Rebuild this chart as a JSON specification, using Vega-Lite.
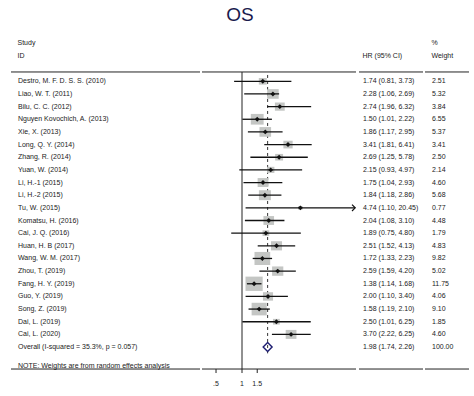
{
  "$schema": "https://vega.github.io/schema/vega-lite/v6.json",
  "background": "white",
  "padding": {"left": 10, "right": 10, "top": 6, "bottom": 4},
  "title": {"text": "OS", "fontSize": 19, "font": "Liberation Sans", "fontWeight": "normal", "color": "#1a1a4d", "anchor": "middle", "offset": 14},
  "config": {
    "view": {"stroke": null},
    "font": "Liberation Sans",
    "text": {"font": "Liberation Sans", "fontSize": 7, "color": "#222222", "baseline": "middle", "align": "left"},
    "title": {"font": "Liberation Sans", "fontSize": 7, "fontWeight": "normal", "color": "#222222", "anchor": "start", "lineHeight": 13, "offset": 12}
  },
  "datasets": {
    "rows": [
      {"study": "Destro, M. F. D. S. S.  (2010)", "kind": "study", "hr": 1.74, "lo": 0.81, "hi": 3.73, "w": 2.51, "ci": "1.74 (0.81, 3.73)", "wt": "2.51"},
      {"study": "Liao, W. T.  (2011)", "kind": "study", "hr": 2.28, "lo": 1.06, "hi": 2.69, "w": 5.32, "ci": "2.28 (1.06, 2.69)", "wt": "5.32"},
      {"study": "Bilu, C. C.  (2012)", "kind": "study", "hr": 2.74, "lo": 1.96, "hi": 6.32, "w": 3.84, "ci": "2.74 (1.96, 6.32)", "wt": "3.84"},
      {"study": "Nguyen Kovochich, A.  (2013)", "kind": "study", "hr": 1.50, "lo": 1.01, "hi": 2.22, "w": 6.55, "ci": "1.50 (1.01, 2.22)", "wt": "6.55"},
      {"study": "Xie, X.  (2013)", "kind": "study", "hr": 1.86, "lo": 1.17, "hi": 2.95, "w": 5.37, "ci": "1.86 (1.17, 2.95)", "wt": "5.37"},
      {"study": "Long, Q. Y.  (2014)", "kind": "study", "hr": 3.41, "lo": 1.81, "hi": 6.41, "w": 3.41, "ci": "3.41 (1.81, 6.41)", "wt": "3.41"},
      {"study": "Zhang, R.  (2014)", "kind": "study", "hr": 2.69, "lo": 1.25, "hi": 5.78, "w": 2.50, "ci": "2.69 (1.25, 5.78)", "wt": "2.50"},
      {"study": "Yuan, W.  (2014)", "kind": "study", "hr": 2.15, "lo": 0.93, "hi": 4.97, "w": 2.14, "ci": "2.15 (0.93, 4.97)", "wt": "2.14"},
      {"study": "Li, H.-1  (2015)", "kind": "study", "hr": 1.75, "lo": 1.04, "hi": 2.93, "w": 4.60, "ci": "1.75 (1.04, 2.93)", "wt": "4.60"},
      {"study": "Li, H.-2  (2015)", "kind": "study", "hr": 1.84, "lo": 1.18, "hi": 2.86, "w": 5.68, "ci": "1.84 (1.18, 2.86)", "wt": "5.68"},
      {"study": "Tu, W.  (2015)", "kind": "study", "hr": 4.74, "lo": 1.10, "hi": 20.45, "w": 0.77, "ci": "4.74 (1.10, 20.45)", "wt": "0.77"},
      {"study": "Komatsu, H.  (2016)", "kind": "study", "hr": 2.04, "lo": 1.08, "hi": 3.10, "w": 4.48, "ci": "2.04 (1.08, 3.10)", "wt": "4.48"},
      {"study": "Cai, J. Q.  (2016)", "kind": "study", "hr": 1.89, "lo": 0.75, "hi": 4.80, "w": 1.79, "ci": "1.89 (0.75, 4.80)", "wt": "1.79"},
      {"study": "Huan, H. B  (2017)", "kind": "study", "hr": 2.51, "lo": 1.52, "hi": 4.13, "w": 4.83, "ci": "2.51 (1.52, 4.13)", "wt": "4.83"},
      {"study": "Wang, W. M.  (2017)", "kind": "study", "hr": 1.72, "lo": 1.33, "hi": 2.23, "w": 9.82, "ci": "1.72 (1.33, 2.23)", "wt": "9.82"},
      {"study": "Zhou, T.  (2019)", "kind": "study", "hr": 2.59, "lo": 1.59, "hi": 4.20, "w": 5.02, "ci": "2.59 (1.59, 4.20)", "wt": "5.02"},
      {"study": "Fang, H. Y.  (2019)", "kind": "study", "hr": 1.38, "lo": 1.14, "hi": 1.68, "w": 11.75, "ci": "1.38 (1.14, 1.68)", "wt": "11.75"},
      {"study": "Guo, Y.  (2019)", "kind": "study", "hr": 2.00, "lo": 1.10, "hi": 3.40, "w": 4.06, "ci": "2.00 (1.10, 3.40)", "wt": "4.06"},
      {"study": "Song, Z.  (2019)", "kind": "study", "hr": 1.58, "lo": 1.19, "hi": 2.10, "w": 9.10, "ci": "1.58 (1.19, 2.10)", "wt": "9.10"},
      {"study": "Dai, L.  (2019)", "kind": "study", "hr": 2.50, "lo": 1.01, "hi": 6.25, "w": 1.85, "ci": "2.50 (1.01, 6.25)", "wt": "1.85"},
      {"study": "Cai, L.  (2020)", "kind": "study", "hr": 3.70, "lo": 2.22, "hi": 6.25, "w": 4.60, "ci": "3.70 (2.22, 6.25)", "wt": "4.60"},
      {"study": "Overall  (I-squared = 35.3%, p = 0.057)", "kind": "overall", "hr": 1.98, "lo": 1.74, "hi": 2.26, "w": 100, "ci": "1.98 (1.74, 2.26)", "wt": "100.00"}
    ],
    "axisticks": [
      {"tick": 0.5, "label": ".5"},
      {"tick": 1, "label": "1"},
      {"tick": 1.5, "label": "1.5"}
    ]
  },
  "spacing": 0,
  "hconcat": [
    {
      "width": 189, "height": 297,
      "title": {"text": ["Study", "ID"], "dx": 7},
      "data": {"name": "rows"},
      "layer": [
        {
          "mark": {"type": "text", "dx": 7},
          "encoding": {
            "x": {"datum": 0, "type": "quantitative", "scale": {"domain": [0, 1]}, "axis": null},
            "y": {"field": "study", "type": "nominal", "axis": null, "scale": {"type": "band", "paddingInner": 0, "paddingOuter": 0.235, "domain": ["Destro, M. F. D. S. S.  (2010)", "Liao, W. T.  (2011)", "Bilu, C. C.  (2012)", "Nguyen Kovochich, A.  (2013)", "Xie, X.  (2013)", "Long, Q. Y.  (2014)", "Zhang, R.  (2014)", "Yuan, W.  (2014)", "Li, H.-1  (2015)", "Li, H.-2  (2015)", "Tu, W.  (2015)", "Komatsu, H.  (2016)", "Cai, J. Q.  (2016)", "Huan, H. B  (2017)", "Wang, W. M.  (2017)", "Zhou, T.  (2019)", "Fang, H. Y.  (2019)", "Guo, Y.  (2019)", "Song, Z.  (2019)", "Dai, L.  (2019)", "Cai, L.  (2020)", "Overall  (I-squared = 35.3%, p = 0.057)", "NOTE"]}},
            "text": {"field": "study"}
          }
        },
        {
          "mark": {"type": "rule", "color": "#222222", "strokeWidth": 1, "yOffset": -3},
          "transform": [{"filter": "datum.kind == 'overall'"}],
          "encoding": {"y": {"datum": "Destro, M. F. D. S. S.  (2010)", "type": "nominal", "bandPosition": 0}}
        },
        {
          "mark": {"type": "rule", "color": "#222222", "strokeWidth": 1, "yOffset": 3},
          "transform": [{"filter": "datum.kind == 'overall'"}],
          "encoding": {"y": {"datum": "NOTE", "type": "nominal", "bandPosition": 1}}
        },
        {
          "mark": {"type": "text", "dx": 7, "dy": 6},
          "transform": [{"filter": "datum.kind == 'overall'"}],
          "encoding": {
            "x": {"datum": 0, "type": "quantitative"},
            "y": {"datum": "NOTE", "type": "nominal"},
            "text": {"value": "NOTE: Weights are from random effects analysis"}
          }
        }
      ]
    },
    {
      "width": 154, "height": 297,
      "title": {"text": [" ", " "]},
      "data": {"name": "rows"},
      "layer": [
        {
          "mark": {"type": "rule", "color": "#333333", "strokeWidth": 1, "strokeDash": [3, 3]},
          "transform": [{"filter": "datum.kind == 'overall'"}],
          "encoding": {
            "x": {"datum": 1.98, "type": "quantitative", "scale": {"type": "log", "domain": [0.344, 20.9], "nice": false}, "axis": null},
            "y": {"datum": "Destro, M. F. D. S. S.  (2010)", "type": "nominal", "bandPosition": 0, "axis": null, "scale": {"type": "band", "paddingInner": 0, "paddingOuter": 0.235, "domain": ["Destro, M. F. D. S. S.  (2010)", "Liao, W. T.  (2011)", "Bilu, C. C.  (2012)", "Nguyen Kovochich, A.  (2013)", "Xie, X.  (2013)", "Long, Q. Y.  (2014)", "Zhang, R.  (2014)", "Yuan, W.  (2014)", "Li, H.-1  (2015)", "Li, H.-2  (2015)", "Tu, W.  (2015)", "Komatsu, H.  (2016)", "Cai, J. Q.  (2016)", "Huan, H. B  (2017)", "Wang, W. M.  (2017)", "Zhou, T.  (2019)", "Fang, H. Y.  (2019)", "Guo, Y.  (2019)", "Song, Z.  (2019)", "Dai, L.  (2019)", "Cai, L.  (2020)", "Overall  (I-squared = 35.3%, p = 0.057)", "NOTE"]}},
            "y2": {"datum": "Overall  (I-squared = 35.3%, p = 0.057)", "bandPosition": 1}
          }
        },
        {
          "mark": {"type": "rule", "color": "#222222", "strokeWidth": 1, "yOffset": -3},
          "transform": [{"filter": "datum.kind == 'overall'"}],
          "encoding": {"y": {"datum": "Destro, M. F. D. S. S.  (2010)", "type": "nominal", "bandPosition": 0}}
        },
        {
          "mark": {"type": "rule", "color": "#222222", "strokeWidth": 1, "yOffset": 3},
          "transform": [{"filter": "datum.kind == 'overall'"}],
          "encoding": {"y": {"datum": "NOTE", "type": "nominal", "bandPosition": 1}}
        },
        {
          "mark": {"type": "rule", "color": "#222222", "strokeWidth": 1},
          "transform": [{"filter": "datum.kind == 'overall'"}],
          "encoding": {"x": {"datum": 1, "type": "quantitative"}}
        },
        {
          "data": {"name": "axisticks"},
          "mark": {"type": "rule", "color": "#222222", "strokeWidth": 1, "yOffset": 3, "y2Offset": 7},
          "encoding": {
            "x": {"field": "tick", "type": "quantitative"},
            "y": {"datum": "NOTE", "type": "nominal", "bandPosition": 1},
            "y2": {"datum": "NOTE", "bandPosition": 1}
          }
        },
        {
          "data": {"name": "axisticks"},
          "mark": {"type": "text", "align": "center", "dy": 18},
          "encoding": {
            "x": {"field": "tick", "type": "quantitative"},
            "y": {"datum": "NOTE", "type": "nominal", "bandPosition": 1},
            "text": {"field": "label"}
          }
        },
        {
          "mark": {"type": "point", "shape": "M-1.2,-1L1.2,-1L1.2,1L-1.2,1Z", "filled": true, "color": "#c4c6c4", "opacity": 1},
          "transform": [{"filter": "datum.kind == 'study'"}],
          "encoding": {
            "x": {"field": "hr", "type": "quantitative"},
            "y": {"field": "study", "type": "nominal"},
            "size": {"field": "w", "type": "quantitative", "legend": null, "scale": {"type": "linear", "domain": [0, 11.75], "range": [0, 205]}}
          }
        },
        {
          "mark": {"type": "rule", "color": "#111111", "strokeWidth": 1.3},
          "transform": [{"filter": "datum.kind == 'study'"}],
          "encoding": {
            "x": {"field": "lo", "type": "quantitative"},
            "x2": {"field": "hi"},
            "y": {"field": "study", "type": "nominal"}
          }
        },
        {
          "mark": {"type": "point", "shape": "diamond", "filled": true, "color": "#111111", "size": 24, "opacity": 1},
          "transform": [{"filter": "datum.kind == 'study'"}],
          "encoding": {
            "x": {"field": "hr", "type": "quantitative"},
            "y": {"field": "study", "type": "nominal"}
          }
        },
        {
          "mark": {"type": "point", "shape": "M-1,-1L0,0L-1,1", "filled": false, "stroke": "#111111", "strokeWidth": 1.2, "size": 40, "opacity": 1},
          "transform": [{"filter": "datum.hi > 15"}],
          "encoding": {
            "x": {"field": "hi", "type": "quantitative"},
            "y": {"field": "study", "type": "nominal"}
          }
        },
        {
          "mark": {"type": "point", "shape": "diamond", "filled": false, "stroke": "#1c1c70", "strokeWidth": 1.4, "size": 80, "opacity": 1},
          "transform": [{"filter": "datum.kind == 'overall'"}],
          "encoding": {
            "x": {"field": "hr", "type": "quantitative"},
            "y": {"field": "study", "type": "nominal"}
          }
        }
      ]
    },
    {
      "width": 64, "height": 297,
      "title": {"text": [" ", "HR (95% CI)"], "dx": 4},
      "data": {"name": "rows"},
      "layer": [
        {
          "mark": {"type": "text", "dx": 4},
          "encoding": {
            "x": {"datum": 0, "type": "quantitative", "scale": {"domain": [0, 1]}, "axis": null},
            "y": {"field": "study", "type": "nominal", "axis": null, "scale": {"type": "band", "paddingInner": 0, "paddingOuter": 0.235, "domain": ["Destro, M. F. D. S. S.  (2010)", "Liao, W. T.  (2011)", "Bilu, C. C.  (2012)", "Nguyen Kovochich, A.  (2013)", "Xie, X.  (2013)", "Long, Q. Y.  (2014)", "Zhang, R.  (2014)", "Yuan, W.  (2014)", "Li, H.-1  (2015)", "Li, H.-2  (2015)", "Tu, W.  (2015)", "Komatsu, H.  (2016)", "Cai, J. Q.  (2016)", "Huan, H. B  (2017)", "Wang, W. M.  (2017)", "Zhou, T.  (2019)", "Fang, H. Y.  (2019)", "Guo, Y.  (2019)", "Song, Z.  (2019)", "Dai, L.  (2019)", "Cai, L.  (2020)", "Overall  (I-squared = 35.3%, p = 0.057)", "NOTE"]}},
            "text": {"field": "ci"}
          }
        },
        {
          "mark": {"type": "rule", "color": "#222222", "strokeWidth": 1, "yOffset": -3},
          "transform": [{"filter": "datum.kind == 'overall'"}],
          "encoding": {"y": {"datum": "Destro, M. F. D. S. S.  (2010)", "type": "nominal", "bandPosition": 0}}
        },
        {
          "mark": {"type": "rule", "color": "#222222", "strokeWidth": 1, "yOffset": 3},
          "transform": [{"filter": "datum.kind == 'overall'"}],
          "encoding": {"y": {"datum": "NOTE", "type": "nominal", "bandPosition": 1}}
        }
      ]
    },
    {
      "width": 44, "height": 297,
      "title": {"text": ["%", "Weight"], "dx": 7},
      "data": {"name": "rows"},
      "layer": [
        {
          "mark": {"type": "text", "dx": 7},
          "encoding": {
            "x": {"datum": 0, "type": "quantitative", "scale": {"domain": [0, 1]}, "axis": null},
            "y": {"field": "study", "type": "nominal", "axis": null, "scale": {"type": "band", "paddingInner": 0, "paddingOuter": 0.235, "domain": ["Destro, M. F. D. S. S.  (2010)", "Liao, W. T.  (2011)", "Bilu, C. C.  (2012)", "Nguyen Kovochich, A.  (2013)", "Xie, X.  (2013)", "Long, Q. Y.  (2014)", "Zhang, R.  (2014)", "Yuan, W.  (2014)", "Li, H.-1  (2015)", "Li, H.-2  (2015)", "Tu, W.  (2015)", "Komatsu, H.  (2016)", "Cai, J. Q.  (2016)", "Huan, H. B  (2017)", "Wang, W. M.  (2017)", "Zhou, T.  (2019)", "Fang, H. Y.  (2019)", "Guo, Y.  (2019)", "Song, Z.  (2019)", "Dai, L.  (2019)", "Cai, L.  (2020)", "Overall  (I-squared = 35.3%, p = 0.057)", "NOTE"]}},
            "text": {"field": "wt"}
          }
        },
        {
          "mark": {"type": "rule", "color": "#222222", "strokeWidth": 1, "yOffset": -3},
          "transform": [{"filter": "datum.kind == 'overall'"}],
          "encoding": {"y": {"datum": "Destro, M. F. D. S. S.  (2010)", "type": "nominal", "bandPosition": 0}}
        },
        {
          "mark": {"type": "rule", "color": "#222222", "strokeWidth": 1, "yOffset": 3},
          "transform": [{"filter": "datum.kind == 'overall'"}],
          "encoding": {"y": {"datum": "NOTE", "type": "nominal", "bandPosition": 1}}
        }
      ]
    }
  ]
}
